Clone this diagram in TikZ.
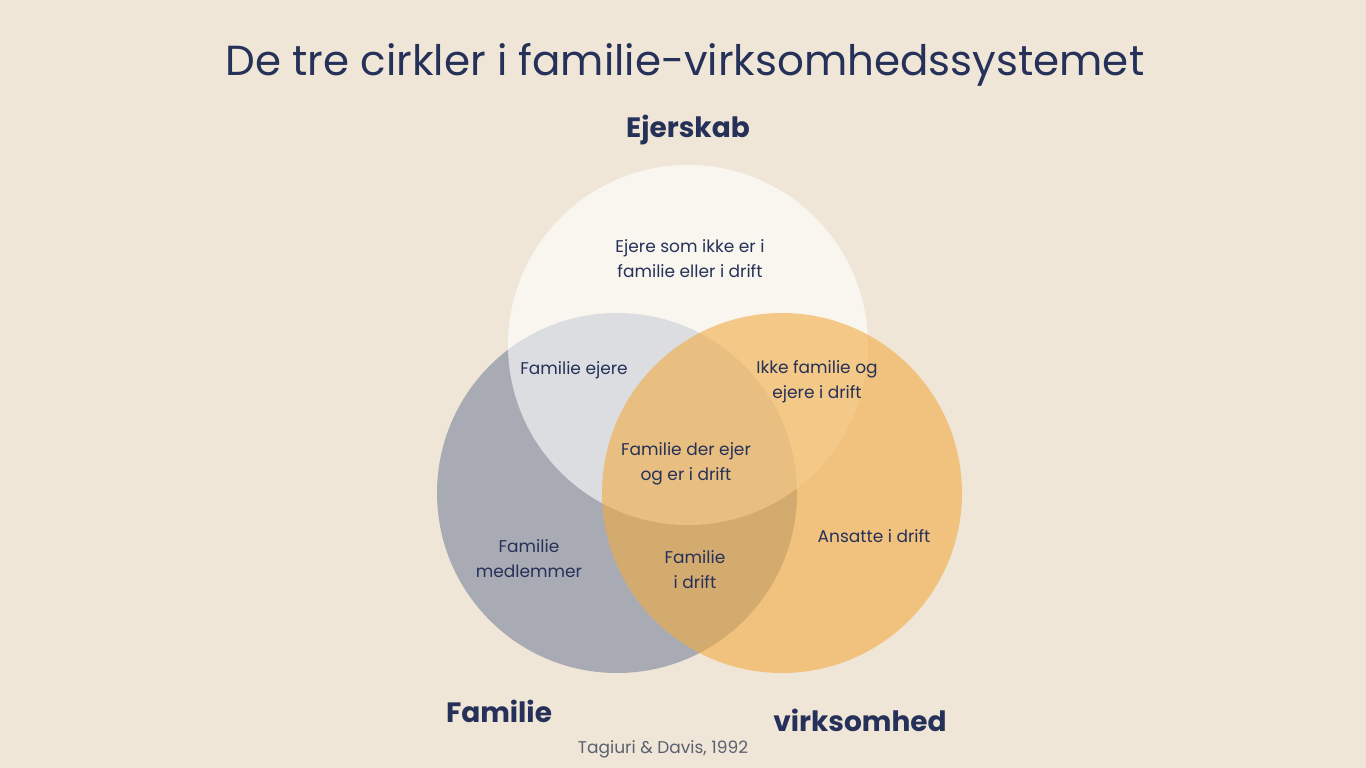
\documentclass[tikz,border=0pt]{standalone}
\usepackage{fontspec}
\setmainfont{Poppins}
\definecolor{bg}{HTML}{F0E6D8}
\definecolor{navy}{HTML}{253158}
\definecolor{greyc}{HTML}{A9ABB4}
\definecolor{orangec}{HTML}{F2AB42}
\definecolor{cite}{HTML}{5A6070}
\begin{document}
\begin{tikzpicture}[x=1pt,y=-1pt,
  reg/.style={text=navy,font=\fontsize{17}{25}\selectfont,align=center},
  big/.style={text=navy,font=\fontsize{28}{32}\selectfont\bfseries}]
\fill[bg] (0,0) rectangle (1366,768);
\useasboundingbox (0,0) rectangle (1366,768);
\fill[greyc] (617,493) circle[radius=180];
\fill[white,opacity=0.6] (688,345) circle[radius=180];
\fill[orangec,opacity=0.6] (782,493) circle[radius=180];
\node[text=navy,font=\fontsize{42}{50}\selectfont] (title) at (685,65) {De tre cirkler i familie-virksomhedssystemet};
\node[big] (ej) at (688,130) {Ejerskab};
\node[big] (fa) at (499,711) {Familie};
\node[big] (vi) at (860,720) {virksomhed};
\node[reg] (r1) at (690,259) {Ejere som ikke er i\\ familie eller i drift};
\node[reg] (r2) at (574,370) {Familie ejere};
\node[reg] (r3) at (817,382) {Ikke familie og\\ ejere i drift};
\node[reg] (r4) at (686,464) {Familie der ejer\\ og er i drift};
\node[reg] (r5) at (529,559) {Familie\\ medlemmer};
\node[reg] (r6) at (695,570) {Familie\\ i drift};
\node[reg] (r7) at (874,536) {Ansatte i drift};
\node[text=cite,font=\fontsize{17}{20}\selectfont] (c) at (663,749) {Tagiuri \& Davis, 1992};
\end{tikzpicture}
\end{document}
